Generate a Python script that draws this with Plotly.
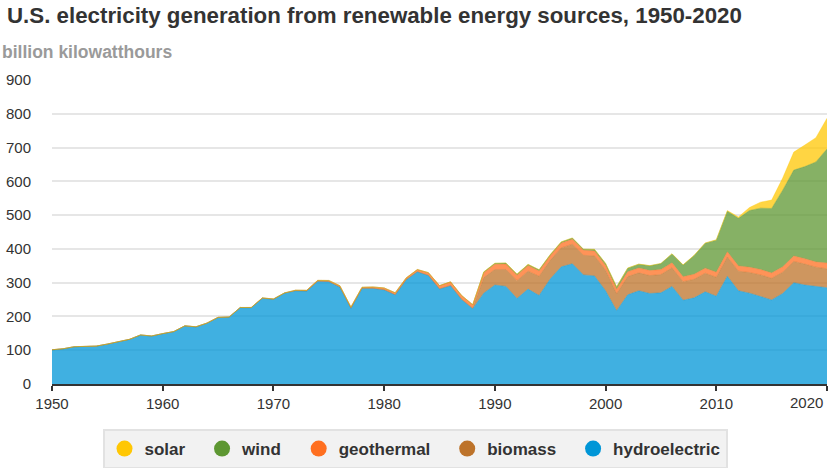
import plotly.graph_objects as go

years = list(range(1950, 2021))

hydroelectric = [
    101, 104, 110, 110, 112, 118, 125, 132, 145, 142,
    149, 155, 172, 169, 180, 197, 198, 226, 226, 254,
    251, 269, 276, 275, 304, 303, 287, 224, 283, 283,
    279, 264, 309, 332, 321, 281, 291, 250, 223, 269,
    293, 289, 253, 281, 262, 311, 347, 356, 323, 320,
    276, 217, 264, 276, 268, 270, 289, 248, 255, 273,
    260, 319, 276, 269, 259, 249, 268, 300, 293, 288,
    285,
]
biomass = [
    0.4, 0.4, 0.4, 0.4, 0.3, 0.3, 0.3, 0.3, 0.2, 0.2,
    0.2, 0.2, 0.2, 0.2, 0.2, 0.2, 0.2, 0.2, 0.2, 0.2,
    0.2, 0.2, 0.2, 0.3, 0.3, 0.3, 0.3, 0.3, 0.3, 0.3,
    0.3, 0.4, 0.5, 0.7, 0.9, 1.0, 1.1, 1.2, 1.5, 46,
    46, 50, 53, 53, 57, 55, 56, 58, 58, 59,
    61, 50, 54, 53, 53, 54, 55, 55, 55, 55,
    56, 57, 58, 61, 64, 64, 63, 63, 62, 58,
    56,
]
geothermal = [
    0, 0, 0, 0, 0, 0, 0, 0, 0, 0,
    0.03, 0.1, 0.1, 0.2, 0.2, 0.2, 0.2, 0.3, 0.4, 0.7,
    0.5, 0.5, 1.5, 2.0, 2.5, 3.2, 3.6, 3.6, 3.0, 3.9,
    5.1, 5.7, 4.8, 6.1, 7.7, 9.3, 10.3, 10.8, 10.3, 14.6,
    15.4, 16.0, 16.1, 16.8, 15.5, 13.4, 14.3, 14.7, 14.8, 14.8,
    14.1, 13.7, 14.5, 14.4, 14.8, 14.7, 14.6, 14.6, 14.8, 15.0,
    15.2, 15.3, 15.6, 15.8, 15.9, 15.9, 15.8, 15.9, 16.0, 15.5,
    16.9,
]
wind = [
    0, 0, 0, 0, 0, 0, 0, 0, 0, 0,
    0, 0, 0, 0, 0, 0, 0, 0, 0, 0,
    0, 0, 0, 0, 0, 0, 0, 0, 0, 0,
    0, 0, 0, 0.003, 0.01, 0.01, 0.02, 0.02, 0.01, 2.1,
    2.8, 3.0, 2.9, 3.0, 3.4, 3.2, 3.2, 3.3, 3.0, 4.5,
    5.6, 6.7, 10.4, 11.2, 14.1, 17.8, 26.6, 34.5, 55.4, 73.9,
    94.7, 120.2, 140.8, 167.8, 181.7, 190.7, 227.0, 254.3, 272.7, 295.9,
    337.9,
]
solar = [
    0, 0, 0, 0, 0, 0, 0, 0, 0, 0,
    0, 0, 0, 0, 0, 0, 0, 0, 0, 0,
    0, 0, 0, 0, 0, 0, 0, 0, 0, 0,
    0, 0, 0, 0, 0.01, 0.01, 0.02, 0.01, 0.01, 0.3,
    0.4, 0.5, 0.4, 0.5, 0.5, 0.5, 0.5, 0.5, 0.5, 0.5,
    0.5, 0.5, 0.6, 0.5, 0.6, 0.6, 0.5, 0.6, 0.9, 0.9,
    1.2, 1.8, 4.3, 9.0, 17.7, 24.9, 36.1, 53.3, 63.8, 71.9,
    90.9,
]

x_ticks = [1950, 1960, 1970, 1980, 1990, 2000, 2010, 2020]
x_labels = ["1950", "1960", "1970", "1980", "1990", "2000", "2010", "2020"]
y_ticks = [0, 100, 200, 300, 400, 500, 600, 700, 800, 900]

# bottom of the stack first
series = [
    ("hydroelectric", hydroelectric, "#0096d7", "rgba(0,150,215,0.75)"),
    ("biomass", biomass, "#bd732a", "rgba(189,115,42,0.75)"),
    ("geothermal", geothermal, "#ff6f20", "rgba(255,111,32,0.75)"),
    ("wind", wind, "#5d9732", "rgba(93,151,50,0.75)"),
    ("solar", solar, "#ffc704", "rgba(255,199,4,0.75)"),
]

FONT = "Liberation Sans, Arial, Helvetica, sans-serif"
W, H = 832, 468
M = {"l": 52, "r": 5, "t": 80, "b": 84}
LEGEND_PAD = "\u2002\u2009"  # widen the gap between legend entries
AXIS_COLOR = "#333333"

fig = go.Figure()
for name, values, color, fill in series:
    fig.add_trace(
        go.Scatter(
            x=years,
            y=values,
            name=name,
            mode="lines",
            stackgroup="renewables",
            line={"width": 0.5, "color": fill},
            fillcolor=fill,
            showlegend=False,
            hovertemplate="%{x}: %{y:.1f}<extra>" + name + "</extra>",
        )
    )

# legend entries drawn as round dots, top of stack first
legend_items = list(reversed(series))
for i, (name, values, color, fill) in enumerate(legend_items):
    label = name if i == len(legend_items) - 1 else name + LEGEND_PAD
    fig.add_trace(
        go.Scatter(
            x=[None],
            y=[None],
            name=label,
            mode="markers",
            marker={"size": 16, "color": color},
            showlegend=True,
        )
    )

plot_w = W - M["l"] - M["r"]
plot_h = H - M["t"] - M["b"]

# last year label sits left of its tick so it stays inside the page
annotations = [
    {
        "text": "billion kilowatthours",
        "xref": "paper",
        "yref": "paper",
        "x": -M["l"] / plot_w,
        "y": (H - M["b"] - 52) / plot_h,
        "xanchor": "left",
        "yanchor": "middle",
        "showarrow": False,
        "font": {"size": 17.5, "color": "#9a9a9a", "weight": "bold"},
    },
    {
        "text": x_labels[-1],
        "xref": "x",
        "yref": "paper",
        "x": x_ticks[-1],
        "y": 0,
        "xanchor": "right",
        "yanchor": "middle",
        "xshift": -2,
        "yshift": -18,
        "showarrow": False,
        "font": {"size": 15, "color": AXIS_COLOR},
    },
]

fig.update_layout(
    width=W,
    height=H,
    margin=M,
    paper_bgcolor="white",
    plot_bgcolor="white",
    font={"family": FONT, "color": AXIS_COLOR, "size": 15},
    title={
        "text": "U.S. electricity generation from renewable energy sources, 1950-2020",
        "font": {"size": 22.3, "color": AXIS_COLOR, "weight": "bold"},
        "xref": "container",
        "x": 7 / W,
        "xanchor": "left",
        "yref": "container",
        "y": 1 - 15 / H,
        "yanchor": "middle",
        "pad": {"l": 0, "r": 0, "t": 0, "b": 0},
    },
    annotations=annotations,
    legend={
        "orientation": "h",
        "traceorder": "normal",
        "xref": "container",
        "yref": "container",
        "x": 415 / W,
        "xanchor": "center",
        "y": 1 - 429 / H,
        "yanchor": "top",
        "bgcolor": "#f2f2f2",
        "bordercolor": "#e2e2e2",
        "borderwidth": 2,
        "font": {"size": 17, "color": AXIS_COLOR, "weight": "bold"},
    },
    xaxis={
        "range": [1950, 2020],
        "tickvals": x_ticks,
        "ticktext": x_labels[:-1] + [""],
        "automargin": False,
        "ticks": "outside",
        "ticklen": 5,
        "tickwidth": 1.5,
        "tickcolor": AXIS_COLOR,
        "showline": True,
        "linecolor": AXIS_COLOR,
        "linewidth": 1.5,
        "showgrid": False,
        "zeroline": False,
        "tickfont": {"size": 15, "color": AXIS_COLOR},
    },
    # overlay axis only to draw the longer tick marks
    xaxis2={
        "range": [1950, 2020],
        "overlaying": "x",
        "anchor": "y",
        "side": "bottom",
        "tickvals": x_ticks,
        "showticklabels": False,
        "automargin": False,
        "ticks": "outside",
        "ticklen": 13,
        "tickwidth": 1.5,
        "tickcolor": AXIS_COLOR,
        "showline": False,
        "showgrid": False,
        "zeroline": False,
    },
    yaxis={
        "range": [0, 900],
        "tickvals": y_ticks,
        "automargin": False,
        "showgrid": True,
        "gridcolor": "#e6e6e6",
        "gridwidth": 1.5,
        "zeroline": False,
        "showline": False,
        "ticks": "",
        "ticklabelstandoff": 20,
        "tickfont": {"size": 15, "color": AXIS_COLOR},
    },
)

fig.write_html(
    "out.html",
    config={"displayModeBar": False},
    post_script="document.body.style.margin = '0';",
)
